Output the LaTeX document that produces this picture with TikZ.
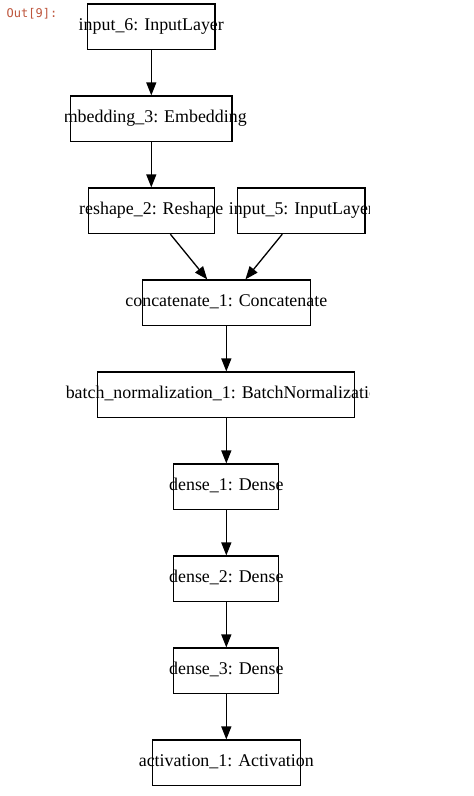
\documentclass[tikz,border=0pt]{standalone}
\usepackage{fontspec}
\setmainfont{Liberation Serif}
\newfontfamily\promptfont{DejaVu Sans Mono}
\usetikzlibrary{arrows.meta, positioning, calc}
\definecolor{promptred}{RGB}{190,85,60}

\begin{document}
\begin{tikzpicture}[
  x=1pt, y=1pt,
  node distance=45.2pt and 22.1pt,
  box/.style={rectangle, draw, line width=1.3pt, minimum height=45.5pt, inner sep=0pt},
  txt/.style={font=\fontsize{17.9}{20}\selectfont, inner sep=0pt, text height=12pt, text depth=4.5pt},
  arr/.style={draw, line width=1.3pt, -{Triangle[length=13pt, width=10pt]}}
]
  \useasboundingbox[fill=white] (0,0) rectangle (474,-796);
  \node[font=\promptfont\fontsize{12}{14}\selectfont, text=promptred, anchor=west, inner sep=0pt] (prompt) at (6.5,-13.3) {Out[9]:};

  \begin{scope}
  \clip (65,0) rectangle (369,-796);
  % Nodes
  \node[box, minimum width=127.3pt, label={[txt]center:{input\_6: InputLayer}}] (input6) at (151.3,-26.8) {};
  \node[box, minimum width=161.3pt, below=of input6, label={[txt]center:{embedding\_3: Embedding}}] (embed3) {};
  \node[box, minimum width=126pt, below=of embed3, label={[txt]center:{reshape\_2: Reshape}}] (reshape2) {};
  \node[box, minimum width=127.3pt, right=of reshape2, label={[txt]center:{input\_5: InputLayer}}] (input5) {};

  \coordinate (mid) at ($(reshape2.south)!0.5!(input5.south)$);
  \node[box, minimum width=168.3pt, below=of mid, label={[txt]center:{concatenate\_1: Concatenate}}] (concat1) {};
  \node[box, minimum width=257pt, below=of concat1, label={[txt]center:{batch\_normalization\_1: BatchNormalization}}] (batchnorm1) {};
  \node[box, minimum width=105pt, below=of batchnorm1, label={[txt]center:{dense\_1: Dense}}] (dense1) {};
  \node[box, minimum width=105pt, below=of dense1, label={[txt]center:{dense\_2: Dense}}] (dense2) {};
  \node[box, minimum width=105pt, below=of dense2, label={[txt]center:{dense\_3: Dense}}] (dense3) {};
  \node[box, minimum width=148.3pt, below=of dense3, label={[txt]center:{activation\_1: Activation}}] (act1) {};

  % Flows
  \draw[arr] (input6) -- (embed3);
  \draw[arr] (embed3) -- (reshape2);
  \draw[arr] (reshape2) -- (concat1);
  \draw[arr] (input5) -- (concat1);
  \draw[arr] (concat1) -- (batchnorm1);
  \draw[arr] (batchnorm1) -- (dense1);
  \draw[arr] (dense1) -- (dense2);
  \draw[arr] (dense2) -- (dense3);
  \draw[arr] (dense3) -- (act1);
  \end{scope}
\end{tikzpicture}
\end{document}
